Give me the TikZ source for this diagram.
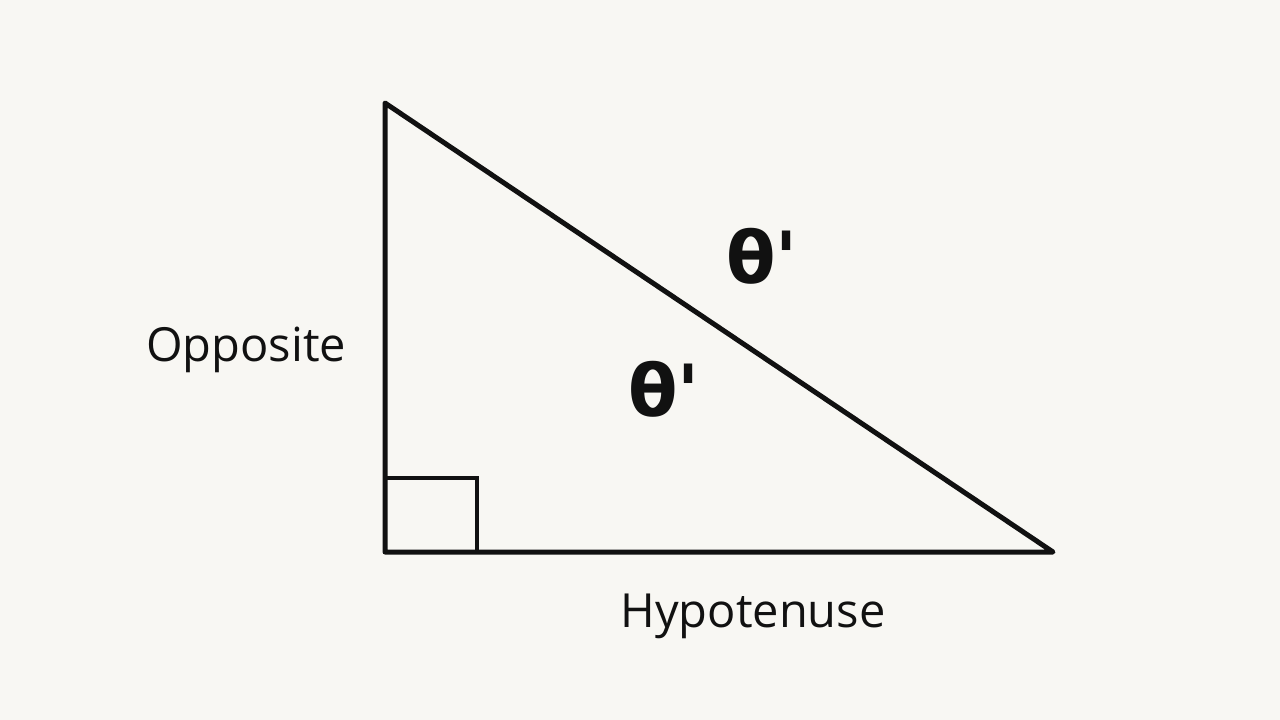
\documentclass[tikz,border=0pt]{standalone}
\usepackage{fontspec}
\setmainfont{Open Sans}
\newfontfamily\thf{DejaVu Sans}
\definecolor{bg}{HTML}{F8F7F3}
\definecolor{ink}{HTML}{111111}
\begin{document}
\begin{tikzpicture}[x=1pt,y=-1pt,
  lbl/.style={text=ink,font=\fontsize{47}{50}\selectfont,inner sep=0pt},
  ang/.style={text=ink,font=\thf\bfseries\fontsize{72}{76}\selectfont,inner sep=0pt}]
\fill[bg] (0,0) rectangle (1280,720);
\useasboundingbox (0,0) rectangle (1280,720);
\coordinate (A) at (385,103);
\coordinate (B) at (385,552);
\coordinate (C) at (1053,552);
\draw[ink,line width=5pt,line join=round] (A) -- (B) -- (C) -- cycle;
\draw[ink,line width=4pt] (385,478) -- (477,478) -- (477,552);
\node[lbl] (opp) at (246,350) {Opposite};
\node[lbl] (hyp) at (753,616) {Hypotenuse};
\node[ang] (t1) at (762,256) {θ'};
\node[ang] (t2) at (664,389) {θ'};
\end{tikzpicture}
\end{document}
